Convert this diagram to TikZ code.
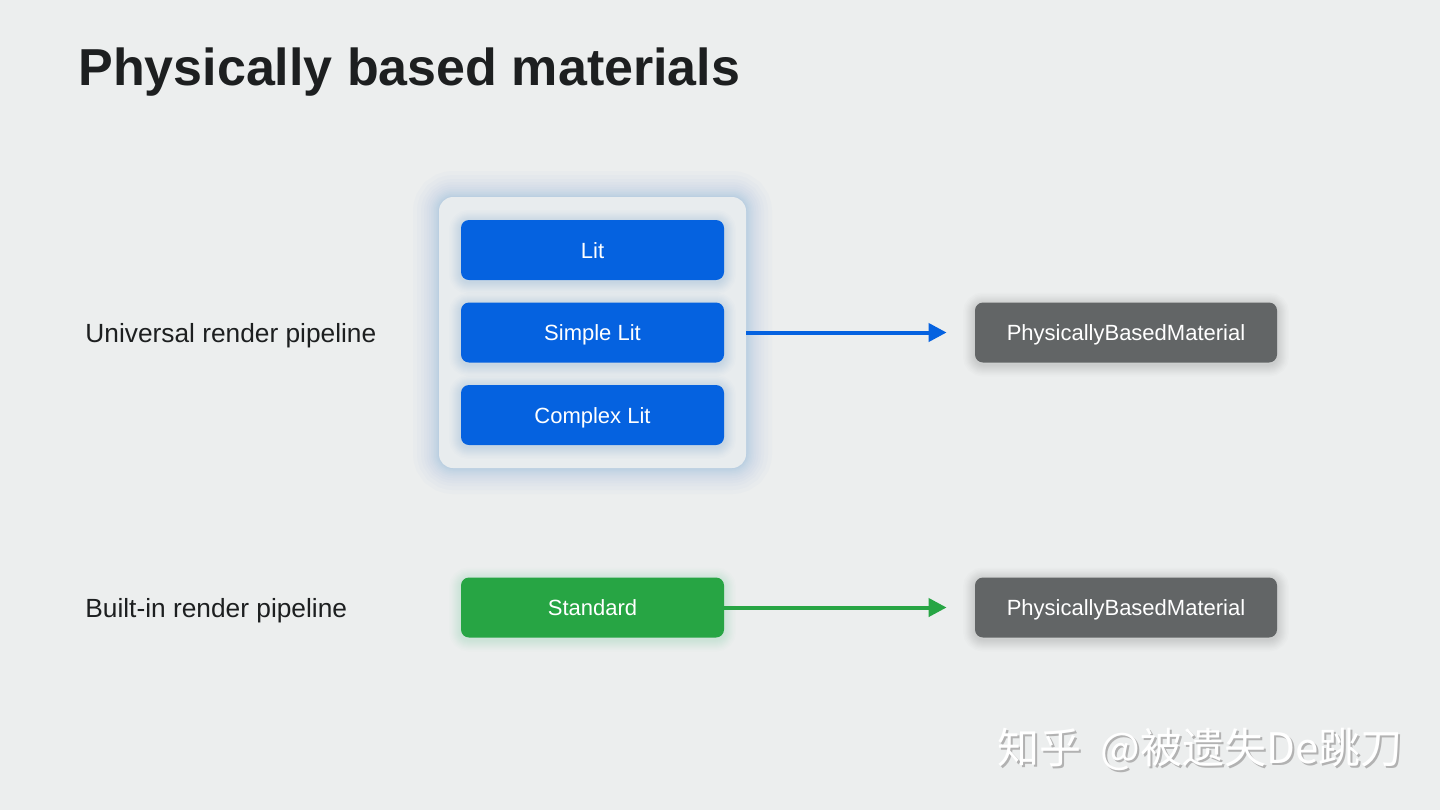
\documentclass[tikz,border=0pt]{standalone}
\usepackage{fontspec}
\setmainfont{Liberation Sans}
\newfontfamily\cjkfont{Noto Sans CJK SC}
\usetikzlibrary{arrows.meta}
\definecolor{slatebg}{RGB}{236,238,238}
\definecolor{panelbg}{RGB}{232,236,238}
\definecolor{inkdark}{RGB}{29,31,32}
\definecolor{matblue}{RGB}{5,98,224}
\definecolor{matgreen}{RGB}{39,165,68}
\definecolor{matgray}{RGB}{98,101,102}
\tikzset{
    glow tint/.code={\colorlet{glowtint}{#1}},
    widestep/.style={preaction={draw=glowtint, line width=#1, opacity=0.014}},
    shortstep/.style={preaction={transform canvas={yshift=-1pt}, draw=glowtint, line width=#1, opacity=0.013}},
    softglow/.style={glow tint=#1, widestep/.list={26pt,22pt,18pt,15pt,12.5pt,10pt,8pt,6.5pt,5pt,3.5pt,2.5pt,1.5pt,0.8pt}},
    smallglow/.style={glow tint=#1, shortstep/.list={12pt,10.5pt,9pt,8pt,7pt,6pt,5pt,4pt,3pt,2pt,1pt}},
    matbox/.style={rounded corners=4pt, text=white, font=\fontsize{11}{14}\selectfont,
        minimum width=131.5pt, minimum height=30pt, inner sep=0pt, text height=8pt, text depth=0pt},
    outbox/.style={matbox, minimum width=151pt, fill=matgray, smallglow=black},
    rowlabel/.style={anchor=base west, text=inkdark, font=\fontsize{13.15}{16}\selectfont, inner sep=0pt},
    flow/.style={line width=2pt, -{Triangle[length=9pt,width=9pt]}, shorten >=14pt},
    mark text/.style={anchor=west, inner sep=0pt, font=\cjkfont\fontsize{21}{26}\selectfont}
}
\begin{document}
\begin{tikzpicture}[x=0.5pt, y=-0.5pt]
    \fill[slatebg] (0,0) rectangle (1440,810);
    \useasboundingbox (0,0) rectangle (1440,810);

    \node[anchor=base west, inner sep=0pt, text=inkdark, font=\bfseries\fontsize{26}{32}\selectfont] (title) at (78,85) {Physically based materials};

    \node[rowlabel] (urp) at (85,342) {Universal render pipeline};
    \node[rowlabel] (brp) at (85,617) {Built-in render pipeline};

    % blue group
    \node[rounded corners=7pt, fill=panelbg, softglow=matblue, minimum width=153.5pt, minimum height=135.5pt, inner sep=0pt] (panel) at (592.5,332.5) {};
    \node[matbox, fill=matblue, smallglow=matblue] (lit) at (592.5,250) {Lit};
    \node[matbox, fill=matblue, smallglow=matblue] (simple) at (592.5,332.5) {Simple Lit};
    \node[matbox, fill=matblue, smallglow=matblue] (complex) at (592.5,415) {Complex Lit};

    \node[matbox, fill=matgreen, smallglow=matgreen] (standard) at (592.5,607.5) {Standard};

    \node[outbox] (pbm a) at (1126,332.5) {PhysicallyBasedMaterial};
    \node[outbox] (pbm b) at (1126,607.5) {PhysicallyBasedMaterial};

    \draw[flow, matblue] (panel) -- (pbm a);
    \draw[flow, matgreen] (standard) -- (pbm b);

    % watermark
    \node[mark text, text=black!30] (mark shadow) at (999,751) {知乎\hspace{5pt} @被遗失De跳刀};
    \node[mark text, text=white] (mark) at (997,749) {知乎\hspace{5pt} @被遗失De跳刀};
\end{tikzpicture}
\end{document}
